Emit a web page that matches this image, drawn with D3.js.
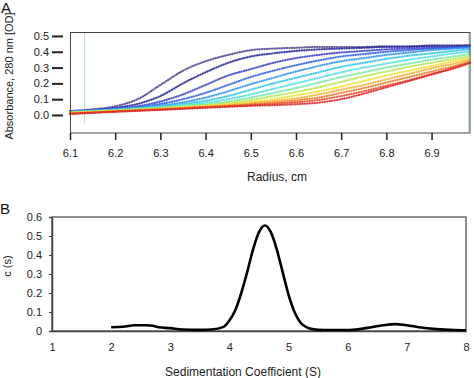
<!DOCTYPE html>
<html>
<head>
<meta charset="utf-8">
<script src="https://cdn.jsdelivr.net/npm/d3@7"></script>
<style>
  body { margin: 0; background: #fff; }
  svg { display: block; font-family: Arial, "Liberation Sans", sans-serif; }
</style>
</head>
<body>
<svg id="chart" width="474" height="378"></svg>
<script>
// ---------- Panel A data ----------
const radiusGrid = [6.10, 6.15, 6.20, 6.25, 6.30, 6.35, 6.40, 6.45, 6.50, 6.55, 6.60, 6.65, 6.70, 6.75, 6.80, 6.85, 6.90, 6.95, 6.985];
const scanColors = ["#4a3e8e", "#22229a", "#3a3ccc", "#2f62e0", "#2f92f0", "#30c2f0", "#4fdede", "#74e6a4", "#b4e650", "#f0de30", "#f8b032", "#f07a2a", "#e84a28", "#d82828"];
const scan1  = [.025, .035, .055, .10, .19, .28, .34, .38, .41, .42, .425, .43, .43, .43, .435, .435, .44, .44, .44];
const scan2  = [.025, .030, .045, .07, .12, .20, .27, .33, .37, .39, .405, .415, .42, .425, .43, .43, .435, .435, .44];
const scan3  = [.022, .030, .040, .055, .085, .13, .19, .25, .29, .33, .36, .38, .395, .405, .415, .42, .425, .43, .435];
const scan4  = [.020, .028, .038, .050, .070, .10, .14, .19, .24, .28, .315, .345, .37, .385, .40, .41, .42, .425, .43];
const scan5  = [.020, .027, .036, .046, .060, .08, .11, .15, .195, .235, .275, .31, .34, .36, .38, .395, .41, .42, .425];
const scan6  = [.020, .026, .034, .043, .055, .07, .09, .12, .16, .20, .235, .27, .305, .33, .355, .375, .39, .405, .415];
const scan7  = [.018, .025, .032, .040, .050, .062, .078, .10, .13, .165, .20, .235, .27, .30, .325, .35, .37, .39, .40];
const scan8  = [.016, .023, .030, .038, .046, .056, .068, .085, .11, .14, .17, .205, .24, .27, .30, .325, .35, .37, .385];
const scan9  = [.015, .022, .028, .035, .043, .052, .062, .075, .095, .12, .145, .175, .21, .245, .275, .305, .33, .355, .37];
const scan10 = [.014, .020, .026, .033, .040, .048, .057, .068, .083, .10, .125, .15, .18, .215, .25, .28, .31, .34, .36];
const scan11 = [.012, .018, .025, .031, .038, .045, .053, .062, .074, .088, .105, .13, .16, .19, .225, .26, .295, .325, .35];
const scan12 = [.010, .016, .023, .030, .036, .043, .050, .058, .067, .078, .092, .11, .14, .17, .205, .24, .275, .31, .34];
const scan13 = [.008, .015, .022, .028, .034, .041, .048, .055, .062, .070, .080, .095, .12, .15, .185, .22, .26, .295, .33];
const scan14 = [.006, .013, .020, .026, .032, .039, .046, .052, .058, .062, .068, .078, .10, .135, .175, .215, .255, .30, .33];
const scans = [scan1, scan2, scan3, scan4, scan5, scan6, scan7, scan8, scan9, scan10, scan11, scan12, scan13, scan14];
const meniscusLines = [6.131, 6.981];
const radiusTicks = [6.1, 6.2, 6.3, 6.4, 6.5, 6.6, 6.7, 6.8, 6.9];
const absTicks = [0.0, 0.1, 0.2, 0.3, 0.4, 0.5];

// ---------- Panel B data ----------
const sedS = [2.0, 2.2, 2.4, 2.6, 2.7, 2.8, 3.0, 3.2, 3.5, 3.7, 3.9, 4.0, 4.1, 4.2, 4.3, 4.4, 4.5, 4.6, 4.7, 4.8, 4.9, 5.0, 5.1, 5.2, 5.3, 5.4, 5.6, 6.0, 6.2, 6.4, 6.6, 6.8, 7.0, 7.2, 7.5, 7.8, 8.0];
const cS   = [0.02, 0.022, 0.03, 0.03, 0.028, 0.02, 0.015, 0.008, 0.006, 0.008, 0.022, 0.055, 0.11, 0.20, 0.31, 0.43, 0.52, 0.555, 0.52, 0.43, 0.31, 0.19, 0.10, 0.045, 0.02, 0.01, 0.005, 0.005, 0.01, 0.02, 0.03, 0.036, 0.03, 0.02, 0.01, 0.005, 0.004];
const sedTicks = [1, 2, 3, 4, 5, 6, 7, 8];
const cTicks = [0, 0.1, 0.2, 0.3, 0.4, 0.5, 0.6];

const svg = d3.select("#chart");
const ink = "#222";

// ===== Panel A =====
const xA = d3.scaleLinear().domain([6.1, 6.985]).range([70, 470]);
const yA = d3.scaleLinear().domain([-0.114, 0.525]).range([133, 32]);
const gA = svg.append("g");

// meniscus / base lines
gA.selectAll("line.men").data(meniscusLines).enter().append("line")
  .attr("x1", d => Math.round(xA(d)) + 0.5).attr("x2", d => Math.round(xA(d)) + 0.5)
  .attr("y1", yA(0.525)).attr("y2", (d, i) => i === 0 ? 123 : yA(-0.114))
  .attr("stroke", "#b8e8b8").attr("stroke-width", 1);

const lineA = d3.line().x((d, i) => xA(radiusGrid[i])).y(d => yA(d)).curve(d3.curveMonotoneX);
gA.selectAll("path.scan").data(scans).enter().append("path")
  .attr("class", "scan")
  .attr("d", d => lineA(d))
  .attr("fill", "none")
  .attr("stroke", (d, i) => scanColors[i])
  .attr("stroke-width", 2.2)
  .attr("stroke-linecap", "round")
  .attr("stroke-dasharray", "0.4,2.1")
  .attr("opacity", 0.85);

// frame
gA.append("rect").attr("x", 70.5).attr("y", 32.5).attr("width", 399.5).attr("height", 100.5)
  .attr("fill", "none").attr("stroke", "#444").attr("stroke-width", 1);

// x axis
const axA = gA.append("g").attr("transform", "translate(0,133)")
  .call(d3.axisBottom(xA).tickValues(radiusTicks).tickFormat(d3.format(".1f")).tickSize(7).tickPadding(9));
axA.select(".domain").remove();
axA.selectAll("line").attr("stroke", ink).attr("stroke-width", 1.5);
axA.selectAll("text").attr("font-size", 11).attr("fill", ink).attr("font-family", "Arial, 'Liberation Sans', sans-serif");

// y axis (detached ticks)
const ayA = gA.append("g").attr("transform", "translate(63,0)")
  .call(d3.axisLeft(yA).tickValues(absTicks).tickFormat(d3.format(".1f")).tickSize(11).tickPadding(3));
ayA.select(".domain").remove();
ayA.selectAll("line").attr("stroke", ink).attr("stroke-width", 2);
ayA.selectAll("text").attr("font-size", 11).attr("fill", ink).attr("font-family", "Arial, 'Liberation Sans', sans-serif");

svg.append("text").attr("x", 277).attr("y", 181).attr("text-anchor", "middle")
  .attr("font-size", 12).attr("fill", ink).text("Radius, cm");
svg.append("text").attr("transform", "translate(13,76) rotate(-90)").attr("text-anchor", "middle")
  .attr("font-size", 11).attr("fill", ink).text("Absorbance, 280 nm [OD]");
svg.append("text").attr("x", 1).attr("y", 13).attr("font-size", 15).attr("fill", "#111").text("A");

// ===== Panel B =====
const xB = d3.scaleLinear().domain([1, 8]).range([52, 466]);
const yB = d3.scaleLinear().domain([0, 0.6]).range([331, 217]);
const gB = svg.append("g");

gB.append("rect").attr("x", xB(1)).attr("y", yB(0.6)).attr("width", xB(8) - xB(1)).attr("height", yB(0) - yB(0.6))
  .attr("fill", "none").attr("stroke", "#444").attr("stroke-width", 1.2);

const axB = gB.append("g").attr("transform", `translate(0,${yB(0)})`)
  .call(d3.axisBottom(xB).tickValues(sedTicks).tickFormat(d3.format("d")).tickSize(0).tickPadding(12));
axB.select(".domain").attr("stroke", "#444").attr("stroke-width", 1.5);
axB.selectAll("text").attr("font-size", 11).attr("fill", ink).attr("font-family", "Arial, 'Liberation Sans', sans-serif");

const ayB = gB.append("g").attr("transform", `translate(${xB(1)},0)`)
  .call(d3.axisLeft(yB).tickValues(cTicks).tickFormat(d => d === 0 ? "0" : d3.format(".1f")(d)).tickSize(3).tickPadding(7));
ayB.select(".domain").attr("stroke", "#444").attr("stroke-width", 1.5);
ayB.selectAll("line").attr("stroke", "#444");
ayB.selectAll("text").attr("font-size", 11).attr("fill", ink).attr("font-family", "Arial, 'Liberation Sans', sans-serif");

const lineB = d3.line().x((d, i) => xB(sedS[i])).y(d => yB(d)).curve(d3.curveMonotoneX);
gB.append("path").attr("d", lineB(cS)).attr("fill", "none").attr("stroke", "#000")
  .attr("stroke-width", 2.6).attr("stroke-linejoin", "round");

svg.append("text").attr("x", 243).attr("y", 376).attr("text-anchor", "middle")
  .attr("font-size", 12).attr("fill", ink).text("Sedimentation Coefficient (S)");
svg.append("text").attr("transform", "translate(11,266) rotate(-90)").attr("text-anchor", "middle")
  .attr("font-size", 11).attr("fill", ink).text("c (s)");
svg.append("text").attr("x", 0).attr("y", 214).attr("font-size", 15).attr("fill", "#111").text("B");
</script>
</body>
</html>
